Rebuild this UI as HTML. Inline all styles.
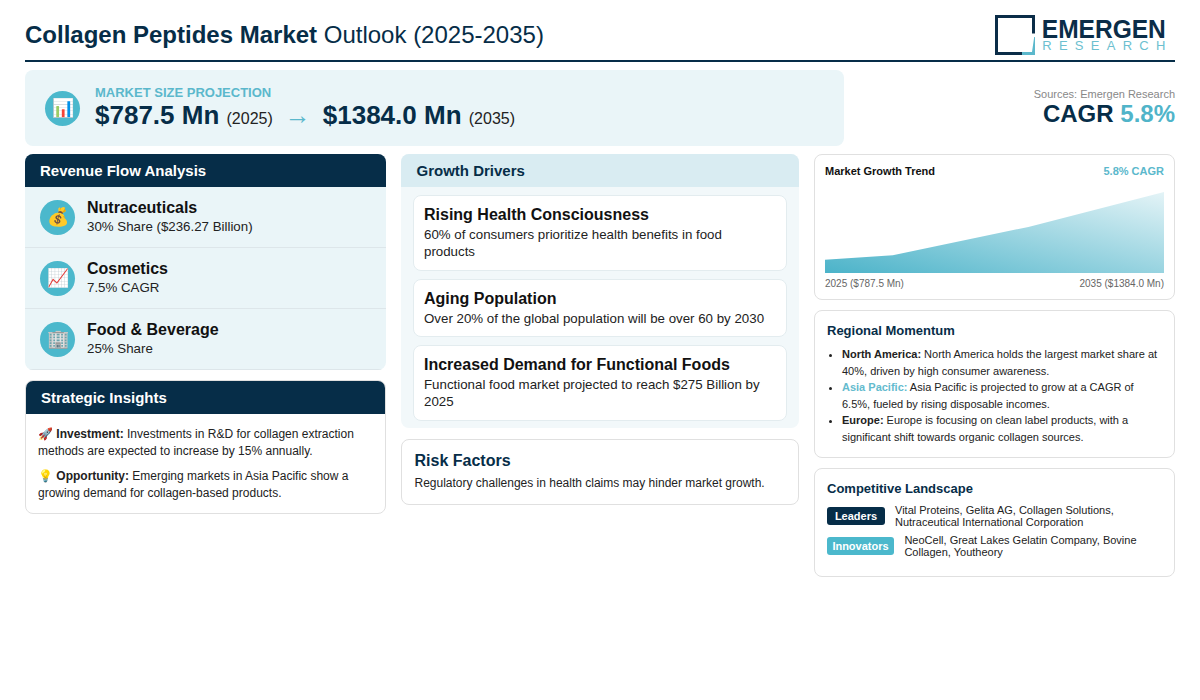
<!DOCTYPE html>
<html>
<head>
<meta charset="utf-8">
<style>
*{box-sizing:border-box;margin:0;padding:0}
html,body{width:1200px;height:700px;overflow:hidden;background:#fff}
body{font-family:"Liberation Sans",sans-serif;color:#222;position:relative}
.emo{font-weight:normal}
.ricon .emo,.micon .emo{position:relative;left:0;top:0}
.abs{position:absolute}
.hdr{position:absolute;left:25px;top:0;width:1150px;height:62px;border-bottom:2px solid #062d48}
.title{position:absolute;left:0;top:21px;font-size:24px;color:#062d48;white-space:nowrap}
.logo{position:absolute;left:993px;top:13px}
.mbox{position:absolute;left:25px;top:70px;width:819px;height:76px;background:#eaf5f8;border-radius:8px}
.micon{position:absolute;left:20px;top:21px;width:35px;height:35px;border-radius:50%;background:#4bb8cc;text-align:center;line-height:35px;font-size:18px}
.mlabel{position:absolute;left:70px;top:15px;font-size:13px;font-weight:bold;color:#5bb8cc;white-space:nowrap}
.mvals{position:absolute;left:70px;top:30px;white-space:nowrap;color:#062d48;font-size:26px;font-weight:bold}
.yr{font-size:16px;color:#222;font-weight:normal}
.arrow{font-weight:normal;color:#5bb8cc;margin:0 12px}
.src{position:absolute;right:25px;top:88px;font-size:11px;color:#888;text-align:right;white-space:nowrap}
.cagr{position:absolute;right:25px;top:100px;font-size:24px;font-weight:bold;color:#062d48;white-space:nowrap}
.cagr span{color:#50b4c9}

/* column 1 */
.rev{position:absolute;left:25px;top:154px;width:361px;height:216px;background:#eaf5f8;border-radius:8px;overflow:hidden}
.dhead{height:33px;background:#062d48;color:#fff;font-size:15px;font-weight:bold;padding:8px 15px 0}
.row{height:61px;border-bottom:1px solid #dde6ea;position:relative}

.ricon{position:absolute;left:15px;top:13px;width:35px;height:35px;border-radius:50%;background:#4bb8cc;text-align:center;line-height:35px;font-size:18px}
.rtitle{position:absolute;left:62px;top:12px;font-size:16px;font-weight:bold;color:#111;white-space:nowrap}
.rsub{position:absolute;left:62px;top:32px;font-size:13.3px;color:#222;white-space:nowrap}

.strat{position:absolute;left:25px;top:380px;width:361px;height:134px;background:#fff;border:1px solid #e0e0e0;border-radius:8px;overflow:hidden}
.strat .dhead{padding:8px 15px 0}
.sbody{padding:12px 12px 0 12px;font-size:12px;line-height:16.5px;color:#222}
.sbody p{margin-bottom:9px}

/* column 2 */
.grow{position:absolute;left:401px;top:154px;width:398px;height:274px;background:#f2f8fa;border-radius:8px;overflow:hidden}
.lhead{height:33px;background:#d9ecf2;color:#062d48;font-size:15px;font-weight:bold;padding:8px 15px 0 15.5px}
.card{position:absolute;left:12px;width:374px;background:#fff;border:1px solid #e3ecef;border-radius:8px;padding:10px 10px}
.ctitle{font-size:16px;font-weight:bold;color:#111;line-height:18.4px;margin-bottom:1.2px}
.cdesc{font-size:13.3px;line-height:17.4px;color:#222}
.risk{position:absolute;left:401px;top:439px;width:398px;height:66px;background:#fff;border:1px solid #e0e0e0;border-radius:8px;padding:0 13px}

/* column 3 */
.wcard{position:absolute;left:814px;width:361px;background:#fff;border:1px solid #e0e0e0;border-radius:8px}
</style>
</head>
<body>
<div class="hdr">
  <div class="title"><b>Collagen Peptides Market</b> Outlook (2025-2035)</div>
</div>
<svg class="logo" width="175" height="45" viewBox="0 0 175 45">
  <path d="M3.5,37 V3.5 H40.5 V20.6" fill="none" stroke="#0b2d48" stroke-width="3"/>
  <path d="M3.5,37 V40.5 H29" fill="none" stroke="#0b2d48" stroke-width="3"/>
  <path d="M29,42 H42 V24 L41.2,24 L39,39 H29 Z" fill="#5bb8cc"/>
  <text x="48.8" y="24.6" font-family="Liberation Sans" font-weight="bold" font-size="25" fill="#0b2d48" textLength="124" lengthAdjust="spacingAndGlyphs">EMERGEN</text>
  <text x="49.3" y="36.8" font-family="Liberation Sans" font-size="13" fill="#6cbfd0" textLength="123" lengthAdjust="spacing">RESEARCH</text>
</svg>
<div class="mbox">
  <div class="micon"><span class="emo">📊</span></div>
  <div class="mlabel">MARKET SIZE PROJECTION</div>
  <div class="mvals">$787.5 Mn <span class="yr">(2025)</span><span class="arrow">→</span>$1384.0 Mn <span class="yr">(2035)</span></div>
</div>
<div class="src">Sources: Emergen Research</div>
<div class="cagr">CAGR <span>5.8%</span></div>

<div class="rev">
  <div class="dhead">Revenue Flow Analysis</div>
  <div class="row"><div class="ricon"><span class="emo">💰</span></div><div class="rtitle">Nutraceuticals</div><div class="rsub">30% Share ($236.27 Billion)</div></div>
  <div class="row"><div class="ricon"><span class="emo">📈</span></div><div class="rtitle">Cosmetics</div><div class="rsub">7.5% CAGR</div></div>
  <div class="row"><div class="ricon"><span class="emo">🏢</span></div><div class="rtitle">Food &amp; Beverage</div><div class="rsub">25% Share</div></div>
</div>

<div class="strat">
  <div class="dhead">Strategic Insights</div>
  <div class="sbody">
    <p><span class="emo">🚀</span> <b>Investment:</b> Investments in R&amp;D for collagen extraction methods are expected to increase by 15% annually.</p>
    <p><span class="emo">💡</span> <b>Opportunity:</b> Emerging markets in Asia Pacific show a growing demand for collagen-based products.</p>
  </div>
</div>

<div class="grow">
  <div class="lhead">Growth Drivers</div>
  <div class="card" style="top:41px;height:76px"><div class="ctitle">Rising Health Consciousness</div><div class="cdesc">60% of consumers prioritize health benefits in food products</div></div>
  <div class="card" style="top:125px;height:58px"><div class="ctitle">Aging Population</div><div class="cdesc">Over 20% of the global population will be over 60 by 2030</div></div>
  <div class="card" style="top:191px;height:76px"><div class="ctitle">Increased Demand for Functional Foods</div><div class="cdesc">Functional food market projected to reach $275 Billion by 2025</div></div>
</div>

<div class="risk">
  <div class="abs" style="left:12.5px;top:12px;font-size:16px;font-weight:bold;color:#062d48;white-space:nowrap">Risk Factors</div>
  <div class="abs" style="left:12.5px;top:36px;font-size:12px;color:#222;white-space:nowrap">Regulatory challenges in health claims may hinder market growth.</div>
</div>

<div class="wcard" style="top:154px;height:146px">
  <div class="abs" style="left:10px;top:10px;font-size:11px;font-weight:bold;color:#111;white-space:nowrap">Market Growth Trend</div>
  <div class="abs" style="right:10px;top:10px;font-size:11px;font-weight:bold;color:#5bb8cc;white-space:nowrap">5.8% CAGR</div>
  <svg class="abs" style="left:10px;top:36.8px" width="339" height="81" viewBox="0 0 300 80" preserveAspectRatio="none">
    <defs><linearGradient id="g" x1="0" y1="1" x2="1" y2="0">
      <stop offset="0" stop-color="#4bb3c9"/>
      <stop offset="1" stop-color="#4bb3c9" stop-opacity="0.15"/>
    </linearGradient></defs>
    <path d="M0,67 L60,62.5 L180,34.5 L300,0 L300,80 L0,80 Z" fill="url(#g)"/>
  </svg>
  <div class="abs" style="left:10px;top:122.7px;font-size:10px;color:#666;white-space:nowrap">2025 ($787.5 Mn)</div>
  <div class="abs" style="right:10px;top:122.7px;font-size:10px;color:#666;white-space:nowrap">2035 ($1384.0 Mn)</div>
</div>

<div class="wcard" style="top:310px;height:148px">
  <div class="abs" style="left:12px;top:12px;font-size:13px;font-weight:bold;color:#062d48;white-space:nowrap">Regional Momentum</div>
  <ul class="abs" style="left:27px;top:35px;width:320px;font-size:11px;line-height:16.5px;color:#222">
    <li><b>North America:</b> North America holds the largest market share at 40%, driven by high consumer awareness.</li>
    <li><b style="color:#64bbce">Asia Pacific:</b> Asia Pacific is projected to grow at a CAGR of 6.5%, fueled by rising disposable incomes.</li>
    <li><b>Europe:</b> Europe is focusing on clean label products, with a significant shift towards organic collagen sources.</li>
  </ul>
</div>

<div class="wcard" style="top:468px;height:109px">
  <div class="abs" style="left:12px;top:12px;font-size:13px;font-weight:bold;color:#062d48;white-space:nowrap">Competitive Landscape</div>
  <div class="abs" style="left:12px;top:38px;width:58px;height:18px;background:#062d48;color:#fff;border-radius:3px;font-size:11px;font-weight:bold;text-align:center;line-height:18px">Leaders</div>
  <div class="abs" style="left:80px;top:34.9px;width:270px;font-size:11px;line-height:12px;color:#222">Vital Proteins, Gelita AG, Collagen Solutions, Nutraceutical International Corporation</div>
  <div class="abs" style="left:12px;top:68px;width:67px;height:18px;background:#4bb8cc;color:#fff;border-radius:3px;font-size:11px;font-weight:bold;text-align:center;line-height:18px">Innovators</div>
  <div class="abs" style="left:89.4px;top:64.9px;width:260px;font-size:11px;line-height:12px;color:#222">NeoCell, Great Lakes Gelatin Company, Bovine Collagen, Youtheory</div>
</div>
</body>
</html>
